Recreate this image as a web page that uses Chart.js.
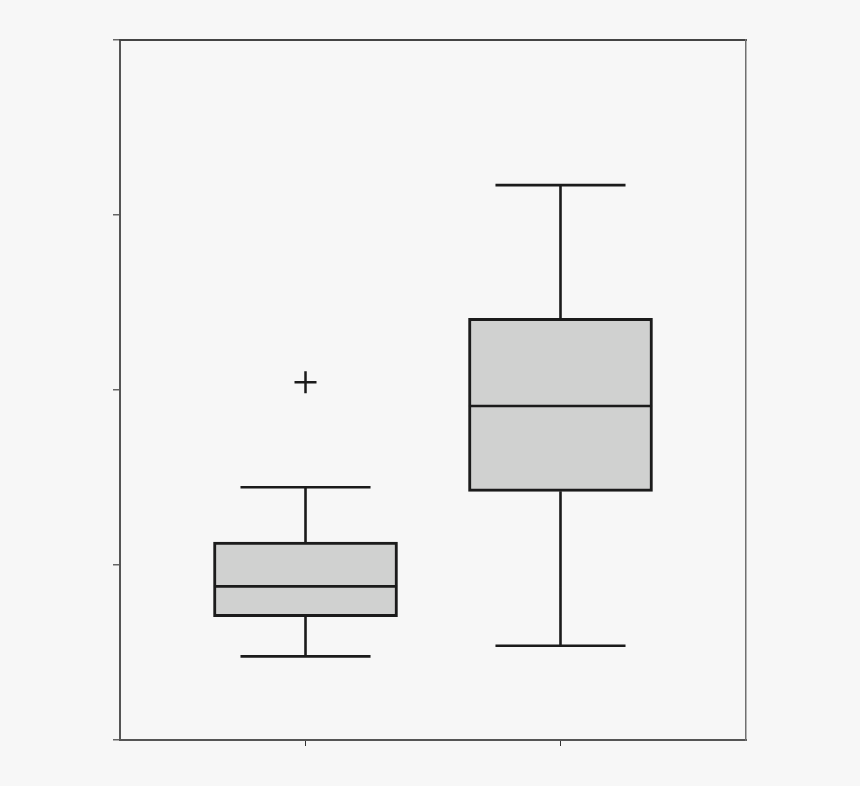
<!DOCTYPE html>
<html>
<head>
<meta charset="utf-8">
<script src="https://cdn.jsdelivr.net/npm/chart.js@4.4.0/dist/chart.umd.min.js"></script>
<style>
  html, body { margin: 0; padding: 0; background: #f7f7f7; }
  #wrap { width: 860px; height: 786px; }
</style>
</head>
<body>
<div id="wrap"><canvas id="c" width="860" height="786"></canvas></div>
<script>
// ---- data ----
const groupPositions = [1, 2];
const whiskerMin = [0.478, 0.539];
const quartile1  = [0.705, 1.421];
const medians    = [0.878, 1.909];
const quartile3  = [1.131, 2.409];
const whiskerMax = [1.444, 3.171];
const outlierX   = [1];
const outlierY   = [2.044];
const yTicks     = [0, 1, 2, 3, 4];
const xTicks     = [1, 2];

// ---- style constants ----
const BOX_HALF = 0.359;   // in x units
const CAP_HALF = 0.255;
const INK = '#1b1b1b';

const boxData = groupPositions.map((x, i) => ({ x: x, y: [quartile1[i], quartile3[i]] }));

const segs = [];
function seg(x1, y1, x2, y2) {
  segs.push({ x: x1, y: y1 }, { x: x2, y: y2 }, { x: x2, y: null });
}
groupPositions.forEach((x, i) => {
  seg(x, quartile3[i], x, whiskerMax[i]);
  seg(x - CAP_HALF, whiskerMax[i], x + CAP_HALF, whiskerMax[i]);
  seg(x, quartile1[i], x, whiskerMin[i]);
  seg(x - CAP_HALF, whiskerMin[i], x + CAP_HALF, whiskerMin[i]);
  seg(x - BOX_HALF, medians[i], x + BOX_HALF, medians[i]);
});
const outliers = outlierX.map((x, i) => ({ x: x, y: outlierY[i] }));

const bg = {
  id: 'bg',
  beforeDraw(chart) {
    const ctx = chart.ctx;
    ctx.save();
    ctx.fillStyle = '#f7f7f7';
    ctx.fillRect(0, 0, chart.width, chart.height);
    ctx.restore();
  }
};

new Chart(document.getElementById('c'), {
  type: 'bar',
  data: {
    datasets: [
      {
        type: 'bar',
        xAxisID: 'x', yAxisID: 'y',
        data: boxData,
        backgroundColor: '#d0d1d0',
        borderColor: INK,
        borderWidth: 3,
        borderSkipped: false,
        barThickness: 184,
        order: 3
      },
      {
        type: 'line',
        xAxisID: 'x', yAxisID: 'y',
        data: segs,
        borderColor: INK,
        borderWidth: 2.6,
        pointRadius: 0,
        spanGaps: false,
        fill: false,
        tension: 0,
        order: 2
      },
      {
        type: 'scatter',
        xAxisID: 'x', yAxisID: 'y',
        data: outliers,
        pointStyle: 'cross',
        pointRadius: 11,
        borderColor: INK,
        borderWidth: 2.5,
        order: 1
      }
    ]
  },
  options: {
    responsive: false,
    animation: false,
    layout: { padding: { left: 110, right: 114, top: 40, bottom: 36 } },
    plugins: { legend: { display: false }, tooltip: { enabled: false } },
    scales: {
      x: {
        type: 'linear',
        position: 'bottom',
        offset: false,
        bounds: 'ticks',
        min: 0.2725,
        max: 2.7275,
        afterBuildTicks(s) { s.ticks = xTicks.map(v => ({ value: v })); },
        afterFit(s) { s.height = 10; },
        ticks: { display: false },
        grid: { display: true, offset: false, drawOnChartArea: false, drawTicks: true, tickLength: 6, color: '#333', lineWidth: 1 },
        border: { display: true, color: '#555', width: 2 }
      },
      y: {
        type: 'linear',
        position: 'left',
        beginAtZero: false,
        min: 0,
        max: 4,
        afterBuildTicks(s) { s.ticks = yTicks.map(v => ({ value: v })); },
        afterFit(s) { s.width = 10; },
        ticks: { display: false },
        grid: { display: true, drawOnChartArea: false, drawTicks: true, tickLength: 7, color: '#666', lineWidth: 1.5 },
        border: { display: true, color: '#555', width: 2 }
      },
      x2: {
        type: 'linear',
        position: 'top',
        display: true,
        min: 0, max: 1,
        afterFit(s) { s.height = 0; },
        ticks: { display: false },
        grid: { display: false },
        border: { display: true, color: '#444', width: 2 }
      },
      y2: {
        type: 'linear',
        position: 'right',
        display: true,
        min: 0, max: 1,
        afterFit(s) { s.width = 0; },
        ticks: { display: false },
        grid: { display: false },
        border: { display: true, color: '#707070', width: 1.5 }
      }
    }
  },
  plugins: [bg]
});
</script>
</body>
</html>
